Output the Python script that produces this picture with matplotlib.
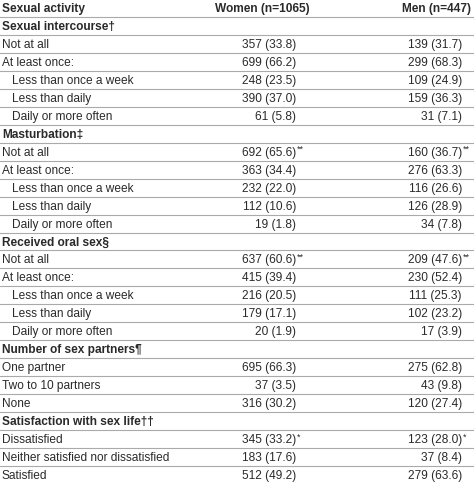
import matplotlib.pyplot as plt
from matplotlib.lines import Line2D

labels = ["Sexual intercourse†","Not at all","At least once:","Less than once a week","Less than daily","Daily or more often",
"Masturbation‡","Not at all","At least once:","Less than once a week","Less than daily","Daily or more often",
"Received oral sex§","Not at all","At least once:","Less than once a week","Less than daily","Daily or more often",
"Number of sex partners¶","One partner","Two to 10 partners","None",
"Satisfaction with sex life††","Dissatisfied","Neither satisfied nor dissatisfied","Satisfied"]
kind = ["h","r","r","s","s","s","h","r","r","s","s","s","h","r","r","s","s","s","h","r","r","r","h","r","r","r"]
women = ["","357 (33.8)","699 (66.2)","248 (23.5)","390 (37.0)","61 (5.8)",
"","692 (65.6)","363 (34.4)","232 (22.0)","112 (10.6)","19 (1.8)",
"","637 (60.6)","415 (39.4)","216 (20.5)","179 (17.1)","20 (1.9)",
"","695 (66.3)","37 (3.5)","316 (30.2)","","345 (33.2)","183 (17.6)","512 (49.2)"]
women_mark = ["","","","","","","","**","","","","","","**","","","","","","","","","","*","",""]
men = ["","139 (31.7)","299 (68.3)","109 (24.9)","159 (36.3)","31 (7.1)",
"","160 (36.7)","276 (63.3)","116 (26.6)","126 (28.9)","34 (7.8)",
"","209 (47.6)","230 (52.4)","111 (25.3)","102 (23.2)","17 (3.9)",
"","275 (62.8)","43 (9.8)","120 (27.4)","","123 (28.0)","37 (8.4)","279 (63.6)"]
men_mark = ["","","","","","","","**","","","","","","**","","","","","","","","","","*","",""]

W, H = 474, 485
fig = plt.figure(figsize=(W/100, H/100), dpi=100)
ax = fig.add_axes([0, 0, 1, 1])
ax.set_xlim(0, W); ax.set_ylim(H, 0); ax.axis('off')
fam = ['Liberation Sans', 'DejaVu Sans']
fs = 8.6
col = '#2a2a2a'
n = len(labels) + 1
rh = H / n
def y(i): return (i + 0.5) * rh
ax.text(2, y(0), "Sexual activity", family=fam, fontsize=fs, weight='bold', va='center', color=col)
ax.text(310, y(0), "Women (n=1065)", family=fam, fontsize=fs, weight='bold', va='center', ha='right', color=col)
ax.text(471, y(0), "Men (n=447)", family=fam, fontsize=fs, weight='bold', va='center', ha='right', color=col)
for k in range(1, n):
    ax.add_line(Line2D([0, W], [k*rh, k*rh], color='#aaa', lw=0.8))
for i, lab in enumerate(labels):
    yy = y(i + 1)
    if kind[i] == 'h':
        ax.text(2, yy, lab, family=fam, fontsize=fs, weight='bold', va='center', color=col)
        continue
    x = 12 if kind[i] == 's' else 2
    ax.text(x, yy, lab, family=fam, fontsize=fs, va='center', color=col)
    ax.text(296, yy, women[i], family=fam, fontsize=fs, va='center', ha='right', color=col)
    ax.text(462, yy, men[i], family=fam, fontsize=fs, va='center', ha='right', color=col)
    if women_mark[i]:
        ax.text(297, yy - 3, women_mark[i], family=fam, fontsize=6.5, va='center', color=col)
    if men_mark[i]:
        ax.text(463, yy - 3, men_mark[i], family=fam, fontsize=6.5, va='center', color=col)
fig.savefig("out.png", dpi=100)
